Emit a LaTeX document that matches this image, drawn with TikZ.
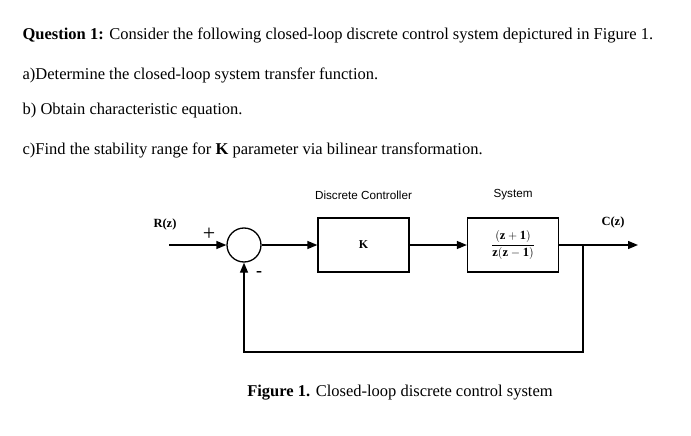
\documentclass[tikz,border=0pt]{standalone}
\usepackage{fontspec}
\setmainfont{Liberation Serif}
\newfontfamily\labelfont{Liberation Sans}
\usetikzlibrary{positioning, arrows.meta}

\begin{document}
\begin{tikzpicture}[
    x=1pt, y=-1pt,
    line width=1.3pt,
    every node/.style={inner sep=0pt},
    block/.style={draw, rectangle, minimum width=91pt, minimum height=54pt},
    sumpoint/.style={draw, circle, minimum size=34pt},
    question/.style={anchor=west, font=\fontsize{16.5}{18}\selectfont},
    caption/.style={font=\labelfont\fontsize{11.7}{13}\selectfont},
    signal/.style={font=\bfseries\fontsize{12.5}{14}\selectfont},
    flow/.style={-{Triangle[length=10pt, width=8pt]}}
]
    \useasboundingbox (0,0) rectangle (691,436);

    % Question text
    \node[question] (q1) at (22,35) {\textbf{Question 1:} Consider the following closed-loop discrete control system depictured in Figure 1.};
    \node[question] (qa) at (22,75) {a)Determine the closed-loop system transfer function.};
    \node[question] (qb) at (22,111) {b) Obtain characteristic equation.};
    \node[question] (qc) at (22,150) {c)Find the stability range for \textbf{K} parameter via bilinear transformation.};

    % Blocks
    \node[sumpoint] (sum) at (244,245) {};
    \node[block, font=\bfseries\fontsize{12}{14}\selectfont] (ctrl) at (363.5,245) {K};
    \node[block] (plant) at (513,245) {\fontsize{12.5}{14}\selectfont$\displaystyle\frac{(\mathbf{z}+\mathbf{1})}{\mathbf{z}(\mathbf{z}-\mathbf{1})}$};
    \node[caption, above=17pt of ctrl] (ctrltitle) {Discrete Controller};
    \node[caption, above=17pt of plant] (planttitle) {System};

    % Signals
    \coordinate (in) at (169,245);
    \coordinate (out) at (638,245);
    \coordinate (branch) at (583,245);
    \coordinate (corner) at (583,352);
    \node[signal] (rz) at (165,224) {R(z)};
    \node[signal] (cz) at (613,222) {C(z)};
    \node[font=\fontsize{22}{22}\selectfont] (plus) at (209,234) {+};
    \node[font=\bfseries\fontsize{18}{18}\selectfont] (minus) at (259,274) {-};

    % Arrows
    \draw[flow] (in) -- (sum);
    \draw[flow] (sum) -- (ctrl);
    \draw[flow] (ctrl) -- (plant);
    \draw[flow] (plant) -- (out);
    \draw[flow] (branch) -- (corner) -| (sum);

    % Caption
    \node[font=\fontsize{16.5}{18}\selectfont] (fig) at (400,393) {\textbf{Figure 1.} Closed-loop discrete control system};
\end{tikzpicture}
\end{document}
